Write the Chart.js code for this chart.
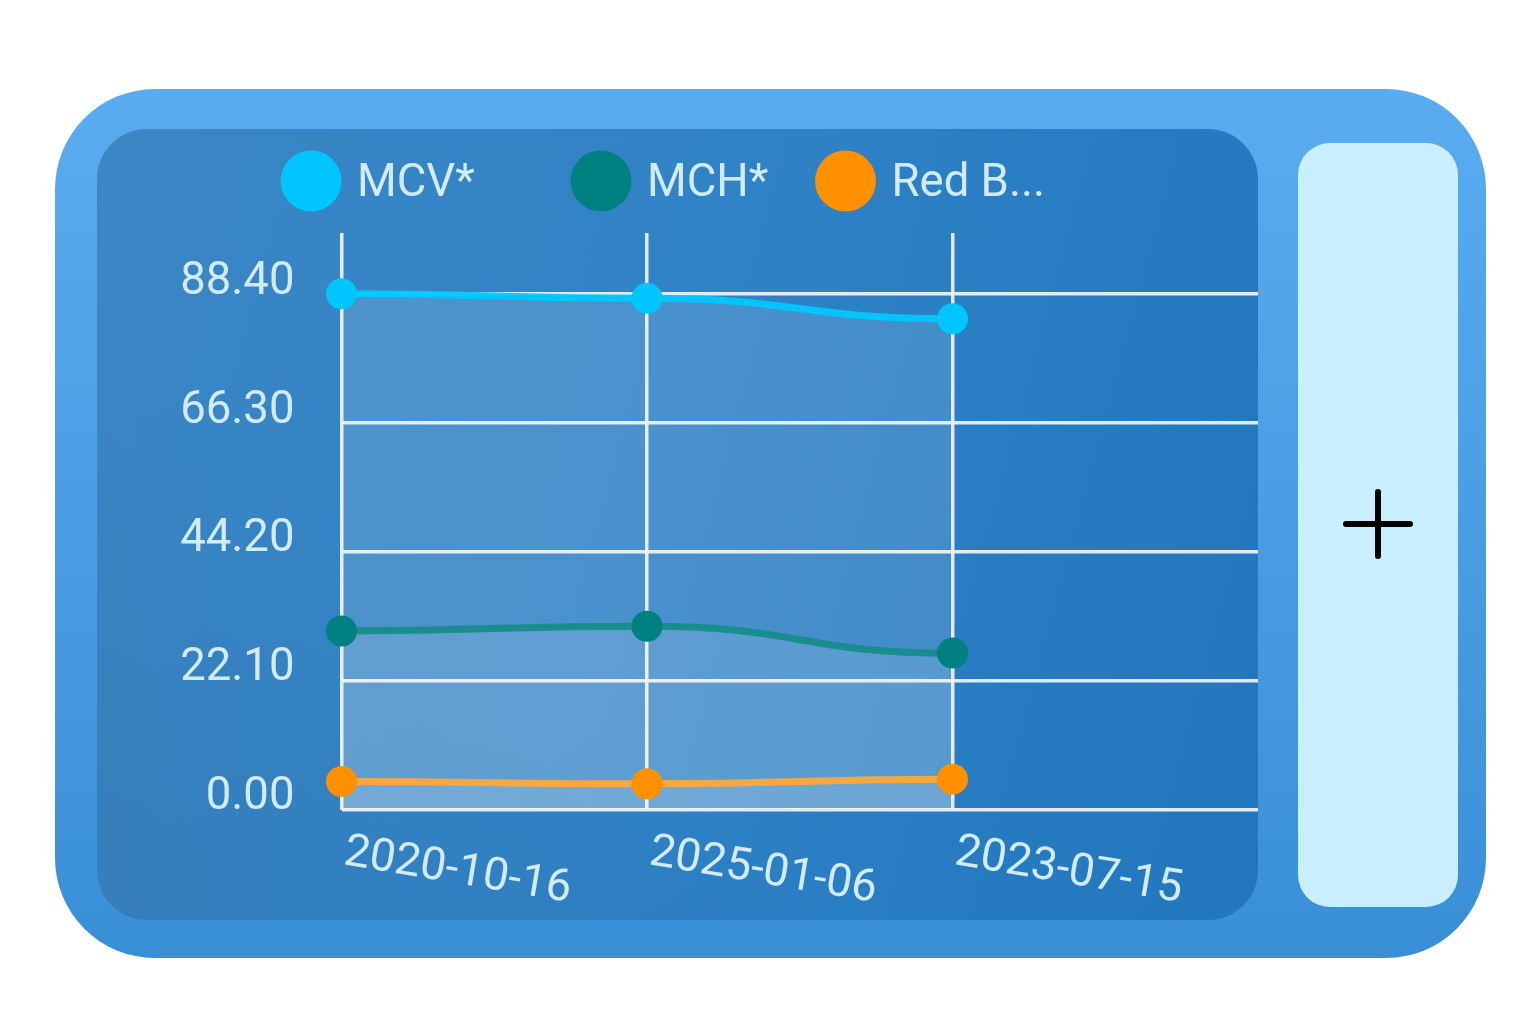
<!DOCTYPE html>
<html>
<head>
<meta charset="utf-8">
<title>Blood values</title>
<script src="https://cdn.jsdelivr.net/npm/chart.js@4"></script>
<style>
  html, body { margin: 0; background: #fff; }
  #stage { position: relative; width: 1540px; height: 1016px; overflow: hidden; }
  .outer { position: absolute; left: 55px; top: 89px; width: 1431px; height: 869px; border-radius: 100px;
           background: linear-gradient(180deg, #59acef, #398fd6); }
  .inner { position: absolute; left: 97px; top: 129px; width: 1161px; height: 791px; border-radius: 50px;
           background: linear-gradient(40deg, rgba(40,90,130,.16), rgba(40,90,130,0) 35%),
                       linear-gradient(105deg, #3c86c4, #3083c6 45%, #2176bd); }
  .btn { position: absolute; left: 1298px; top: 143px; width: 160px; height: 764px; border-radius: 32px; background: #c9eeff; }
  .bar { position: absolute; background: #000; border-radius: 3px; }
  canvas { position: absolute; left: 0; top: 0; }
</style>
</head>
<body>
<div id="stage">
  <div class="outer"></div>
  <div class="inner"></div>
  <div class="btn"></div>
  <div class="bar" style="left:1343px;top:521px;width:70px;height:6px"></div>
  <div class="bar" style="left:1375px;top:489px;width:6px;height:70px"></div>
  <canvas id="chart" width="1540" height="1016"></canvas>
</div>
<script>
// data
const dates = ["2020-10-16", "2025-01-06", "2023-07-15", ""];
const yTicks = [0, 22.1, 44.2, 66.3, 88.4];
const names = ["MCV*", "MCH*", "Red B..."];
const colors = ["#00c5ff", "#008080", "#ff9000"];
const lineColors = ["rgba(0,200,255,.95)", "rgba(20,140,135,.9)", "rgba(255,168,58,.95)"];
const mcv = [88.4, 87.6, 84.1];
const mch = [30.6, 31.4, 26.8];
const rbc = [4.8, 4.4, 5.2];

const FONT = '400 45.5px Roboto';
const TEXT = "#d3ebf9";
const legendX = [311, 601, 845.5];

function ds(i, values) {
  return {
    label: names[i],
    data: values,
    borderColor: lineColors[i],
    borderWidth: 7,
    backgroundColor: "rgba(255,255,255,.12)",
    fill: "origin",
    tension: 0.4,
    pointRadius: 15.5,
    pointBorderWidth: 0,
    pointBackgroundColor: colors[i],
    clip: false
  };
}

// the app's curve leaves and enters every point flat
const flatCurves = {
  id: "flatCurves",
  afterDatasetsUpdate(c) {
    c.data.datasets.forEach((d, n) => {
      const meta = c.getDatasetMeta(n);
      meta.data.forEach((p, i) => {
        const prev = meta.data[i - 1], next = meta.data[i + 1];
        p.cp1x = prev ? (prev.x + p.x) / 2 : p.x;
        p.cp2x = next ? (next.x + p.x) / 2 : p.x;
        p.cp1y = p.cp2y = p.y;
      });
      meta.dataset._pointsUpdated = true;
    });
  }
};

// legend + slanted date labels, chart.js can't left-anchor rotated ticks
const extras = {
  id: "extras",
  afterDraw(c) {
    const ctx = c.ctx;
    ctx.save();
    ctx.font = FONT;
    ctx.textBaseline = "middle";
    names.forEach((n, i) => {
      ctx.fillStyle = colors[i];
      ctx.beginPath();
      ctx.arc(legendX[i], 181, 30.5, 0, Math.PI * 2);
      ctx.fill();
      ctx.fillStyle = TEXT;
      ctx.fillText(n, legendX[i] + 46, 185);
    });
    const xs = c.scales.x;
    dates.forEach((d, i) => {
      ctx.save();
      ctx.translate(xs.getPixelForValue(i) + 1, 864);
      ctx.rotate(9.5 * Math.PI / 180);
      ctx.textBaseline = "alphabetic";
      ctx.fillText(d, 0, 0);
      ctx.restore();
    });
    ctx.restore();
  }
};

new Chart(document.getElementById("chart"), {
  type: "line",
  data: { labels: dates, datasets: [ds(0, mcv), ds(1, mch), ds(2, rbc)] },
  plugins: [flatCurves, extras],
  options: {
    responsive: false,
    animation: false,
    devicePixelRatio: 1,
    layout: { padding: { left: 0, right: 282, top: 233, bottom: 206.5 } },
    plugins: {
      legend: { display: false },
      tooltip: { enabled: false },
      filler: { drawTime: "beforeDatasetsDraw" }
    },
    scales: {
      x: {
        ticks: { display: false },
        afterFit(s) { s.height = 0; },
        border: { display: false },
        grid: {
          drawTicks: false,
          lineWidth: 3.5,
          color: ctx => ctx.index === 3 ? "transparent" : "rgba(238,240,242,.95)"
        }
      },
      y: {
        min: 0,
        max: 98.8,
        afterBuildTicks(s) { s.ticks = yTicks.map(v => ({ value: v })); },
        afterFit(s) { s.width = 341.5; },
        border: { display: false },
        grid: { drawTicks: false, lineWidth: 3.5, color: "rgba(238,240,242,.95)" },
        ticks: {
          padding: 47,
          color: TEXT,
          font: { family: "Roboto", size: 45.5, weight: "400", lineHeight: "23px" },
          // empty 2nd line lifts the label above its grid line
          callback: v => [Number(v).toFixed(2), ""]
        }
      }
    }
  }
});
</script>
</body>
</html>
